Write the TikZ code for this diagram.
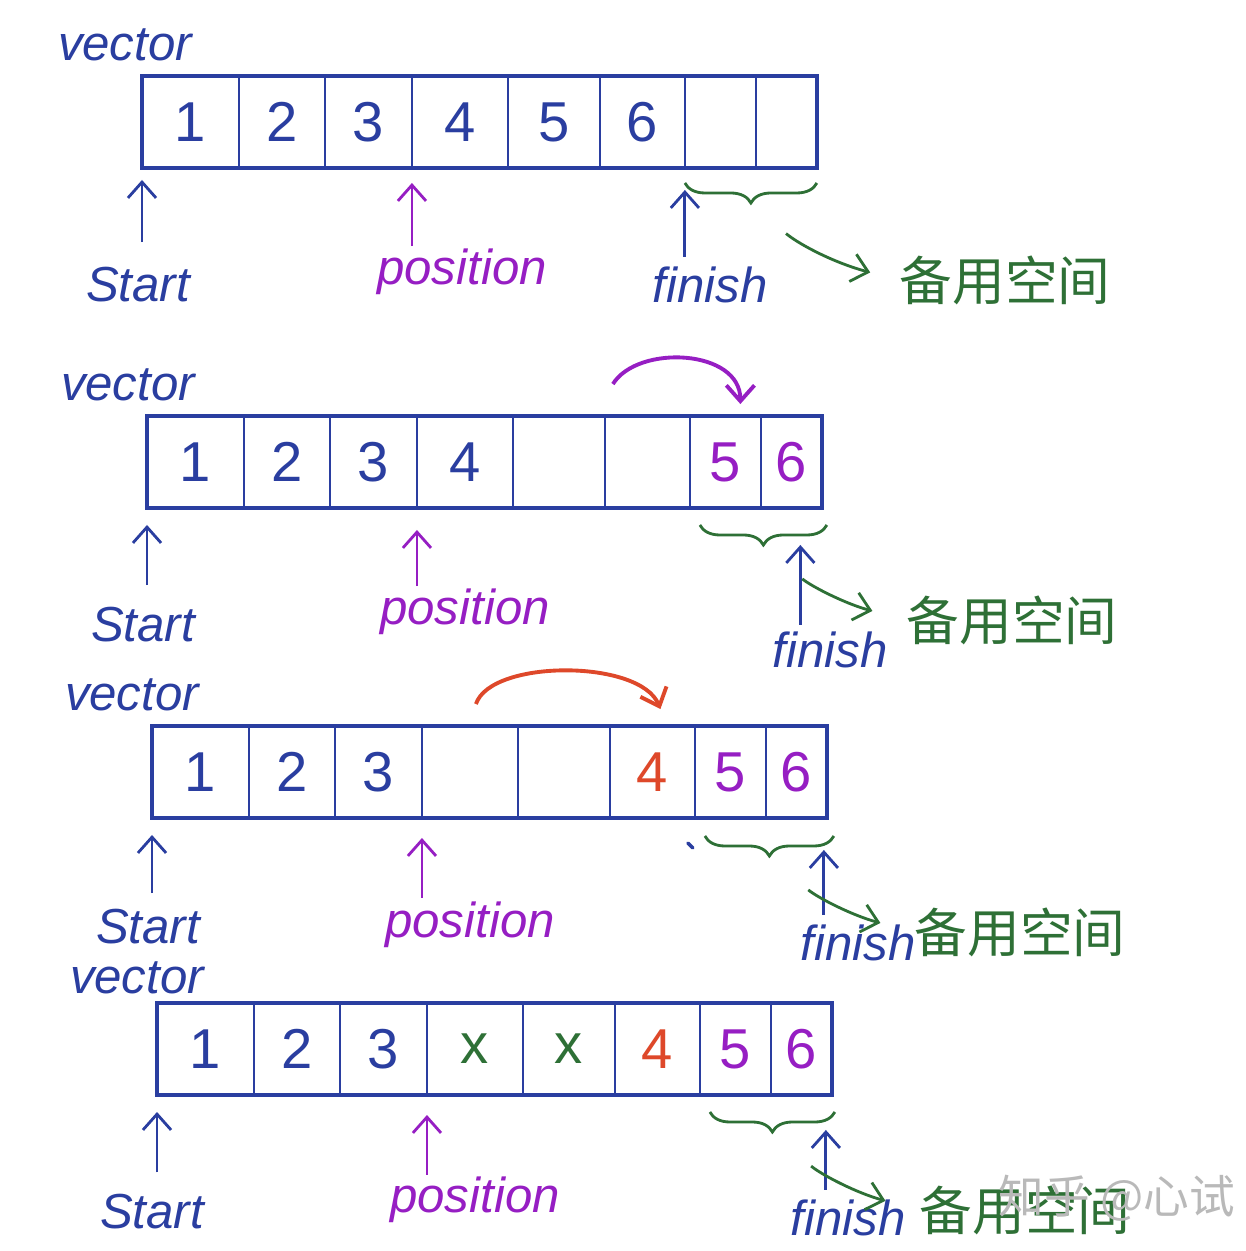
\documentclass[tikz,border=0pt]{standalone}
\usepackage{fontspec}
\setmainfont{Liberation Sans}
\newfontfamily\cjk{Noto Sans CJK SC}
\usetikzlibrary{positioning, arrows.meta, decorations.pathreplacing}

\definecolor{inkblue}{RGB}{42,62,160}
\definecolor{inkpurple}{RGB}{150,30,195}
\definecolor{inkgreen}{RGB}{46,112,54}
\definecolor{inkred}{RGB}{222,72,42}

\tikzset{
  cell/.style={draw=inkblue, line width=1.3pt, minimum height=1.84cm, inner sep=0pt, outer sep=0pt, font=\fontsize{32}{36}\selectfont},
  frame/.style={draw=inkblue, line width=2.4pt},
  word/.style={inner sep=0pt, text=inkblue, font=\fontsize{28}{30}\selectfont\itshape},
  spare/.style={inner sep=0pt, text=inkgreen, font=\cjk\fontsize{30}{34}\selectfont},
  ptr/.style={->, line width=1.6pt, inkblue},
  brc/.style={draw=inkgreen, line width=1.6pt, decorate, decoration={brace, mirror, amplitude=0.4cm}},
  note/.style={->, line width=1.6pt, inkgreen},
  move/.style={->, line width=2.2pt},
}

\begin{document}
\begin{tikzpicture}[x=0.02cm, y=-0.02cm, >={Straight Barb[length=9pt, width=16pt]}]
\useasboundingbox[fill=white] (0,0) rectangle (1246,1251);

% first vector
\node[word] (v1) at (125,45) {vector};
\coordinate (a0) at (142,122);
\foreach \lab/\len/\ink [count=\i, remember=\i as \j (initially 0)] in
  {1/1.94/inkblue, 2/1.72/inkblue, 3/1.74/inkblue, 4/1.92/inkblue, 5/1.84/inkblue, 6/1.70/inkblue, {}/1.42/inkblue, {}/1.22/inkblue}
  \node[cell, minimum width=\len cm, text=\ink] (a\i) [right=0pt of a\j] {\lab};
\draw[frame] (a1.north west) rectangle (a8.south east);
\node[word] (s1) at (138,285) {Start};
\node[word, text=inkpurple] (p1) at (462,272) {position};
\node[word] (f1) at (710,285) {finish};
\node[spare] (g1) at (1005,280) {备用空间};
\draw[ptr, shorten <=0.5cm, shorten >=0.24cm] (s1.north -| a1.south west) -- (a1.south west);
\draw[ptr, inkpurple, shorten <=0.05cm, shorten >=0.3cm] (p1.north -| a4.south west) -- (a4.south west);
\draw[ptr, shorten <=0.2cm, shorten >=0.44cm] (f1.north -| a7.south west) -- (a7.south west);
\draw[brc] ([yshift=-0.3cm]a7.south west) -- ([yshift=-0.3cm]a8.south east)
  node[coordinate, midway, yshift=-0.45cm] (r1) {};
\draw[note, shorten <=0.9cm, shorten >=0.6cm] (r1) to[bend right=12] (g1.west);

% second vector
\node[word] (v2) at (128,385) {vector};
\coordinate (b0) at (147,462);
\foreach \lab/\len/\ink [count=\i, remember=\i as \j (initially 0)] in
  {1/1.94/inkblue, 2/1.72/inkblue, 3/1.74/inkblue, 4/1.92/inkblue, {}/1.84/inkblue, {}/1.70/inkblue, 5/1.42/inkpurple, 6/1.22/inkpurple}
  \node[cell, minimum width=\len cm, text=\ink] (b\i) [right=0pt of b\j] {\lab};
\draw[frame] (b1.north west) rectangle (b8.south east);
\draw[move, inkpurple] ([shift={(8,-32)}]b6.north west) .. controls +(25,-40) and +(0,-55) .. ([shift={(15,-12)}]b7.north);
\node[word] (s2) at (143,625) {Start};
\node[word, text=inkpurple] (p2) at (465,612) {position};
\node[word] (f2) at (830,650) {finish};
\node[spare] (g2) at (1012,620) {备用空间};
\draw[ptr, shorten <=0.44cm, shorten >=0.34cm] (s2.north -| b1.south west) -- (b1.south west);
\draw[ptr, inkpurple, shorten <=0.05cm, shorten >=0.44cm] (p2.north -| b4.south west) -- (b4.south west);
\draw[ptr, shorten <=0.14cm, shorten >=0.74cm] ([xshift=0.18cm]f2.north -| b8.south) -- ([xshift=0.18cm]b8.south);
\draw[brc] ([shift={(10,17)}]b7.south west) -- ([shift={(5,17)}]b8.south east)
  node[coordinate, midway, yshift=-0.45cm] (r2) {};
\draw[note, shorten <=1cm, shorten >=0.7cm] (r2) to[bend right=12] (g2.west);

% third vector
\node[word] (v3) at (132,695) {vector};
\coordinate (c0) at (152,772);
\foreach \lab/\len/\ink [count=\i, remember=\i as \j (initially 0)] in
  {1/1.94/inkblue, 2/1.72/inkblue, 3/1.74/inkblue, {}/1.92/inkblue, {}/1.84/inkblue, 4/1.70/inkred, 5/1.42/inkpurple, 6/1.22/inkpurple}
  \node[cell, minimum width=\len cm, text=\ink] (c\i) [right=0pt of c\j] {\lab};
\draw[frame] (c1.north west) rectangle (c8.south east);
\draw[move, inkred] ([shift={(6,-22)}]c4.north) .. controls +(15,-45) and +(-20,-50) .. ([shift={(8,-17)}]c6.north);
\node[word] (s3) at (148,927) {Start};
\node[word, text=inkpurple] (p3) at (470,925) {position};
\node[word] (f3) at (858,943) {finish};
\node[spare] (g3) at (1020,932) {备用空间};
\draw[ptr, shorten <=0.32cm, shorten >=0.34cm] (s3.north -| c1.south west) -- (c1.south west);
\draw[ptr, inkpurple, shorten <=0.08cm, shorten >=0.4cm] (p3.north -| c4.south west) -- (c4.south west);
\draw[ptr, shorten <=0.2cm, shorten >=0.64cm] ([xshift=-0.06cm]f3.north -| c8.south east) -- ([xshift=-0.06cm]c8.south east);
\draw[brc] ([shift={(10,18)}]c7.south west) -- ([shift={(7,18)}]c8.south east)
  node[coordinate, midway, yshift=-0.45cm] (r3) {};
\draw[inkblue, line width=2pt, line cap=round] ([shift={(-7,25)}]c7.south west) -- ([shift={(-2,30)}]c7.south west);
\draw[note, shorten <=1cm, shorten >=0.7cm] (r3) to[bend right=12] (g3.west);

% fourth vector
\node[word] (v4) at (137,978) {vector};
\coordinate (d0) at (157,1049);
\foreach \lab/\len/\ink [count=\i, remember=\i as \j (initially 0)] in
  {1/1.94/inkblue, 2/1.72/inkblue, 3/1.74/inkblue, x/1.92/inkgreen, x/1.84/inkgreen, 4/1.70/inkred, 5/1.42/inkpurple, 6/1.22/inkpurple}
  \node[cell, minimum width=\len cm, text=\ink] (d\i) [right=0pt of d\j] {\lab};
\draw[frame] (d1.north west) rectangle (d8.south east);
\node[word] (s4) at (152,1212) {Start};
\node[word, text=inkpurple] (p4) at (475,1200) {position};
\node[word] (f4) at (848,1218) {finish};
\node[spare] (g4) at (1025,1210) {备用空间};
\node[text=gray!55, inner sep=0pt, font=\cjk\fontsize{26}{30}\selectfont] (wm) at (1117,1198) {知乎 @心试};
\draw[ptr, shorten <=0.44cm, shorten >=0.34cm] (s4.north -| d1.south west) -- (d1.south west);
\draw[ptr, inkpurple, shorten <=0.04cm, shorten >=0.4cm] (p4.north -| d4.south west) -- (d4.south west);
\draw[ptr, shorten <=0.2cm, shorten >=0.7cm] ([xshift=-0.12cm]f4.north -| d8.south east) -- ([xshift=-0.12cm]d8.south east);
\draw[brc] ([shift={(10,17)}]d7.south west) -- ([shift={(3,17)}]d8.south east)
  node[coordinate, midway, yshift=-0.45cm] (r4) {};
\draw[note, shorten <=1cm, shorten >=0.7cm] (r4) to[bend right=12] (g4.west);
\end{tikzpicture}
\end{document}
